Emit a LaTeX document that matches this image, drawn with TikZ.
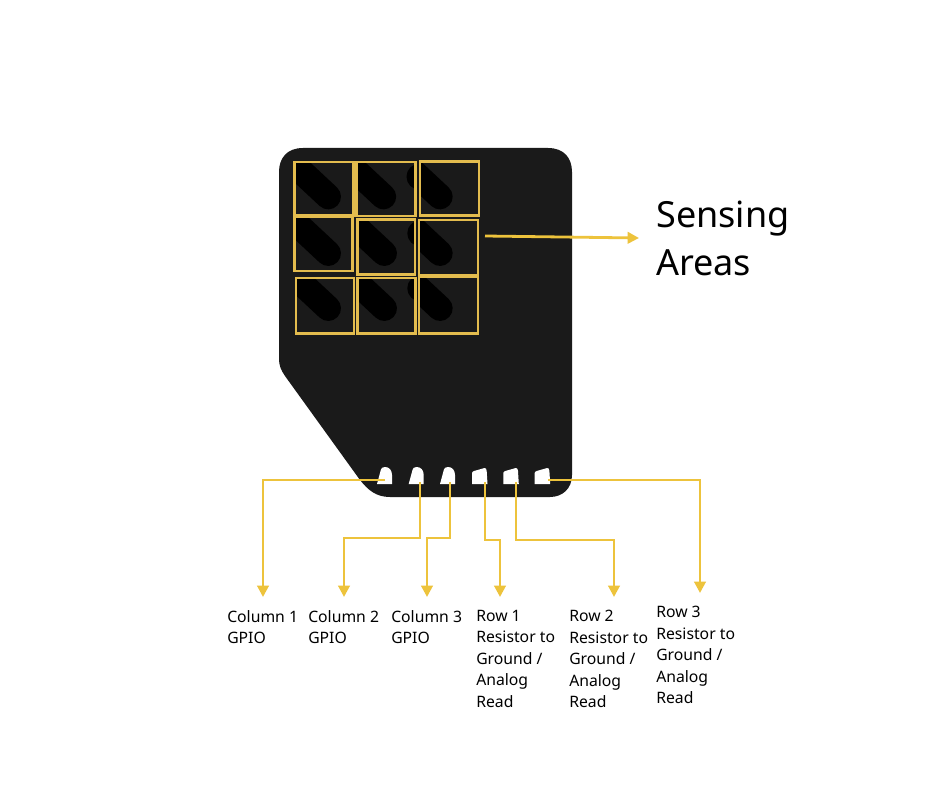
\documentclass[tikz,border=0pt]{standalone}
\usepackage{fontspec}
\setmainfont{Noto Sans}
\usetikzlibrary{arrows.meta}
\definecolor{board}{HTML}{1A1A1A}
\definecolor{gold}{HTML}{EDC33C}
\definecolor{sq}{HTML}{E3BC4E}
\tikzset{
  wire/.style={draw=gold,line width=2.1pt,line join=miter},
  arrowwire/.style={wire,-{Triangle[length=8.5pt,width=8.5pt]}},
  pad/.style={fill=white,draw=none},
  sense/.style={draw=sq,line width=2pt},
  small/.style={anchor=north west,align=left,inner sep=0pt,font=\fontsize{11.8}{16.1}\selectfont},
  big/.style={anchor=north west,align=left,inner sep=0pt,font=\fontsize{27}{36}\selectfont},
}
\begin{document}
\begin{tikzpicture}[x=0.75pt,y=-0.75pt]
\useasboundingbox (0,0) rectangle (940,788);
\fill[white] (0,0) rectangle (940,788);
% board
\fill[board] (303,148) -- (548,148) .. controls (564,148) and (572,158) .. (572,172)
  -- (572,475) .. controls (572,489) and (562,497) .. (550,497)
  -- (390,497) .. controls (376,497) and (368,490) .. (360,480)
  -- (285,376) .. controls (281,370) and (279,366) .. (279,358)
  -- (279,172) .. controls (279,158) and (287,148) .. (303,148) -- cycle;
% sensing cells: x1,y1,x2,y2,blob end x,blob end y,arc radius
\foreach \a/\b/\c/\d/\ex/\ey/\ar in {
  294.7/162/353.3/215.3/328.3/196.7/0,
  356.7/162/415.7/216/383.5/196.7/13,
  420/161.3/479/215.3/440/196.7/0,
  294.7/216.7/352.3/271/328.3/253.3/0,
  357.3/219.3/415/274.3/384.3/253.3/13,
  419/220/478/275/440/253.3/0,
  296/278/354/333.3/328.3/308.3/0,
  357.3/278/415.7/333.3/384.3/308.3/13,
  419/276.7/478/333.3/440/308.3/0}{
  \begin{scope}
    \clip (\a,\b) rectangle (\c,\d);
    \draw[black,line width=19pt,line cap=round] (\ex,\ey) -- ++(-45,-42);
    \fill[black] ({\ex+36},{\ey-20}) circle[radius=\ar];
  \end{scope}
  \draw[sense] (\a,\b) rectangle (\c,\d);
}
% pads
\foreach \x in {377,408.7,440}{
  \fill[pad] (\x,484) -- (\x+3,473) .. controls (\x+4,467) and (\x+6,467) .. (\x+8,467)
    .. controls (\x+12,467) and (\x+15,470) .. (\x+15,475) -- (\x+15,484) -- cycle;
}
\foreach \x in {472,503.3,534.7}{
  \fill[pad] (\x,484) -- (\x,473) .. controls (\x,472) and (\x+1,471.5) .. (\x+2,471)
    -- (\x+12.5,468) .. controls (\x+14,468) and (\x+14.5,469) .. (\x+14.7,471) -- (\x+15.5,484) -- cycle;
}
% connector ends
\coordinate (p1) at (385,480);
\coordinate (p2) at (420,482);
\coordinate (p3) at (450,482);
\coordinate (p4) at (485,482);
\coordinate (p5) at (516,482);
\coordinate (p6) at (548,480);
\coordinate (t1) at (263,597);
\coordinate (t2) at (344,597);
\coordinate (t3) at (427,597);
\coordinate (t4) at (500,597);
\coordinate (t5) at (614,597);
\coordinate (t6) at (700,593);
\coordinate (s0) at (485,236);
\coordinate (s1) at (639,238);
\draw[arrowwire] (p1) -| (t1);
\draw[arrowwire] (p2) -- (p2 |- 0,538) -| (t2);
\draw[arrowwire] (p3) -- (p3 |- 0,538) -| (t3);
\draw[arrowwire] (p4) -- (p4 |- 0,540) -| (t4);
\draw[arrowwire] (p5) -- (p5 |- 0,540) -| (t5);
\draw[arrowwire] (p6) -| (t6);
\draw[arrowwire] (s0) -- (s1);
% labels
\node[big] (lsense) at (656,201) {Sensing\\Areas};
\node[small] (l1) at (227,610) {Column 1\\GPIO};
\node[small] (l2) at (308,610) {Column 2\\GPIO};
\node[small] (l3) at (391,610) {Column 3\\GPIO};
\node[small] (l4) at (476,610) {Row 1\\Resistor to\\Ground /\\Analog\\Read};
\node[small] (l5) at (569,610) {Row 2\\Resistor to\\Ground /\\Analog\\Read};
\node[small] (l6) at (656,606) {Row 3\\Resistor to\\Ground /\\Analog\\Read};
\end{tikzpicture}
\end{document}
